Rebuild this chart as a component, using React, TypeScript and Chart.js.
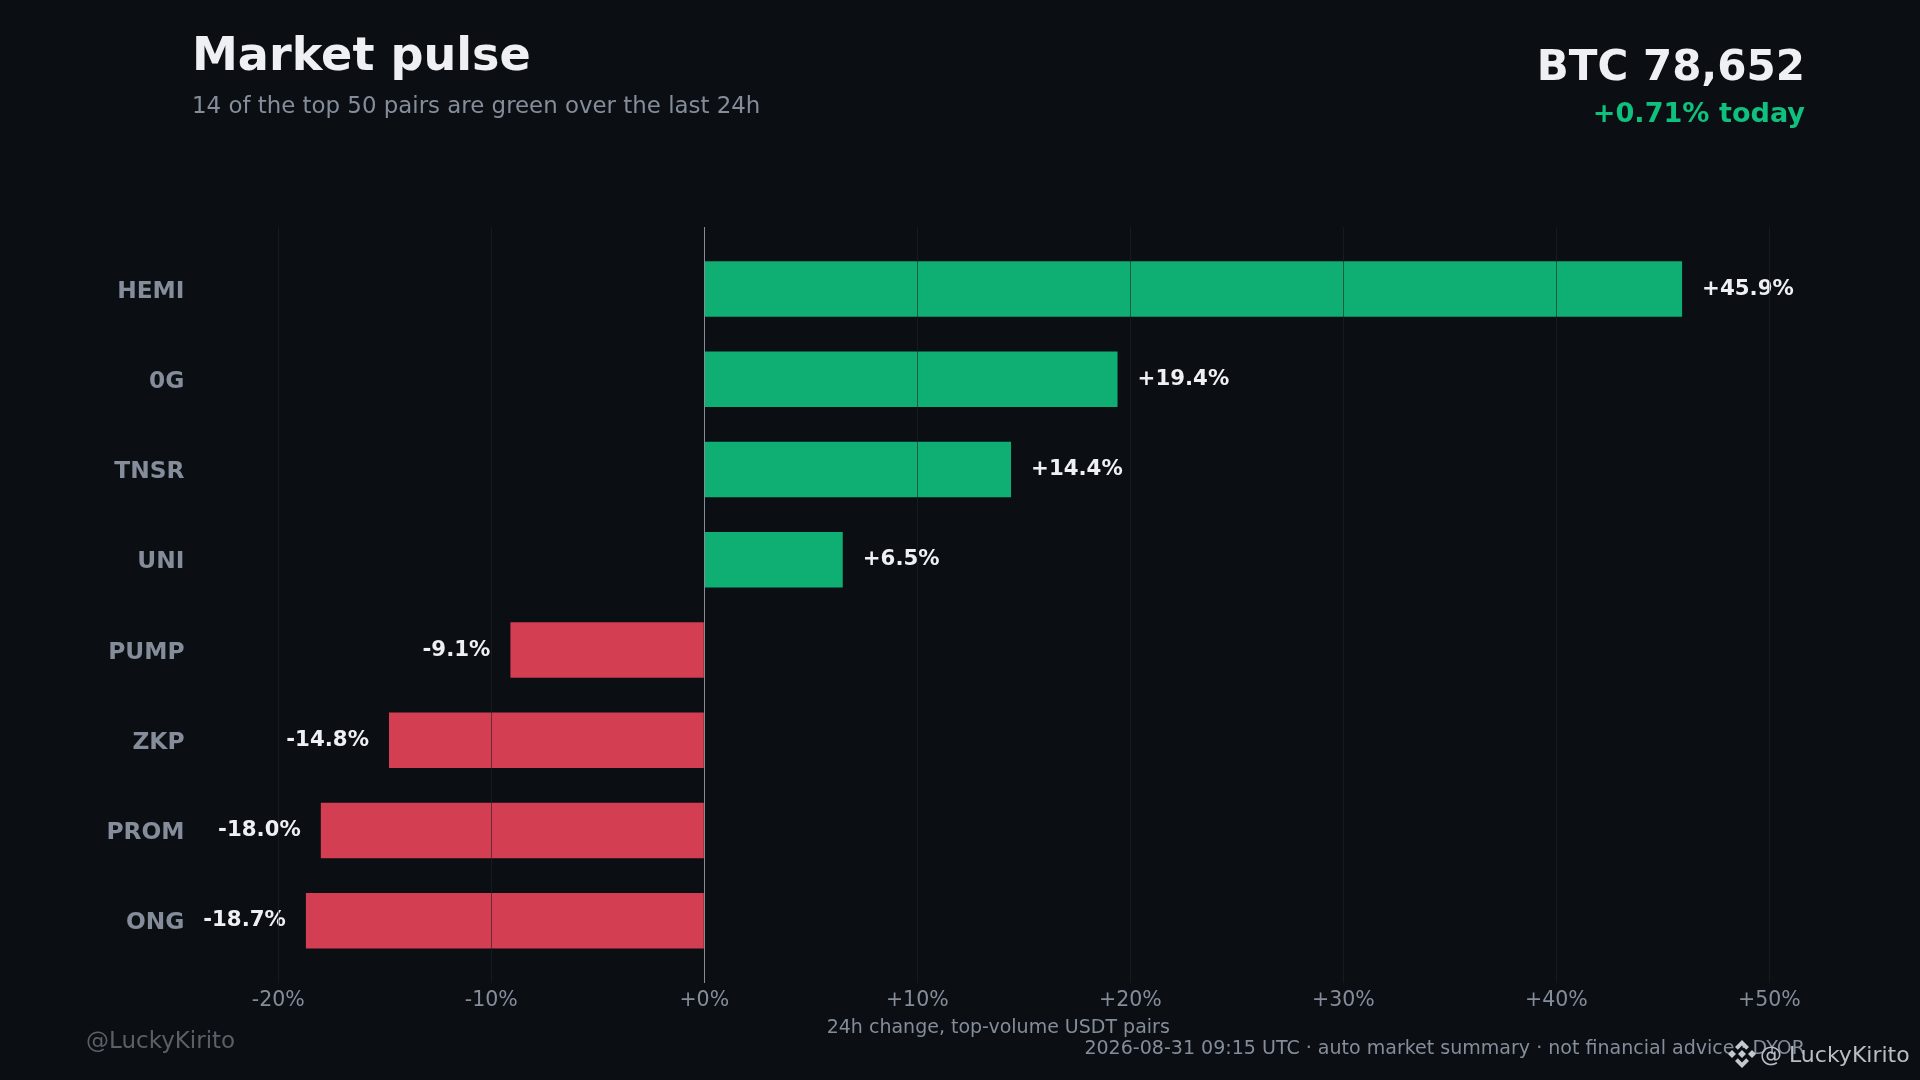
import React, { useEffect, useRef } from "react";
import { Chart, registerables } from "chart.js";

Chart.register(...registerables);

const categories = ["HEMI", "0G", "TNSR", "UNI", "PUMP", "ZKP", "PROM", "ONG"];
const changes = [45.9, 19.4, 14.4, 6.5, -9.1, -14.8, -18.0, -18.7];
const xTicks = [-20, -10, 0, 10, 20, 30, 40, 50];

const BG = "#0b0f13";
const GREEN = "#0fae72";
const RED = "#d33e53";
const MUTED = "#858d9a";
const FONT = '"DejaVu Sans"';

const fmt = (v: number, d: number) => (v < 0 ? "-" : "+") + Math.abs(v).toFixed(d) + "%";

const valueLabels = {
  id: "valueLabels",
  afterDatasetsDraw(chart: any) {
    const { ctx } = chart;
    const meta = chart.getDatasetMeta(0);
    ctx.save();
    ctx.font = `bold 21.3px ${FONT}`;
    ctx.fillStyle = "#eef0f4";
    ctx.textBaseline = "middle";
    meta.data.forEach((bar: any, i: number) => {
      const v = changes[i];
      ctx.textAlign = v < 0 ? "right" : "left";
      ctx.fillText(fmt(v, 1), bar.x + (v < 0 ? -20 : 20), bar.y);
    });
    ctx.restore();
  },
};

const abs = (s: React.CSSProperties): React.CSSProperties => ({
  position: "absolute",
  whiteSpace: "nowrap",
  fontFamily: FONT,
  lineHeight: 1,
  ...s,
});

export default function App() {
  const ref = useRef<HTMLCanvasElement>(null);

  useEffect(() => {
    document.body.style.margin = "0";
    document.body.style.background = BG;
    const chart = new Chart(ref.current!, {
      type: "bar",
      data: {
        labels: categories,
        datasets: [
          {
            data: changes.map((v, i) => ({ x: v, y: i })),
            backgroundColor: changes.map((v) => (v >= 0 ? GREEN : RED)),
            barPercentage: 0.617,
            categoryPercentage: 1,
            borderWidth: 0,
          },
        ],
      },
      plugins: [valueLabels],
      options: {
        indexAxis: "y",
        responsive: false,
        animation: false,
        devicePixelRatio: 1,
        layout: { padding: { top: 227, right: 116.5, left: 0, bottom: 0 } },
        plugins: { legend: { display: false }, tooltip: { enabled: false } },
        scales: {
          x: {
            type: "linear",
            min: -24,
            max: 51.6,
            afterBuildTicks: (s: any) => {
              s.ticks = xTicks.map((value) => ({ value }));
            },
            afterFit: (s: any) => {
              s.height = 97;
            },
            border: { display: false },
            grid: {
              z: 1,
              drawTicks: false,
              lineWidth: 1,
              color: (c: any) => (c.tick?.value === 0 ? "#858d9a" : "rgba(30,35,42,0.6)"),
            },
            ticks: {
              color: MUTED,
              font: { family: FONT, size: 20.5 },
              padding: 5,
              maxRotation: 0,
              autoSkip: false,
              callback: (v: any) => fmt(Number(v), 0),
            },
            title: {
              display: true,
              text: "24h change, top-volume USDT pairs",
              color: MUTED,
              font: { family: FONT, size: 19 },
              padding: { top: 0, bottom: 41 },
            },
          },
          y: {
            type: "linear",
            offset: false,
            reverse: true,
            min: -0.687,
            max: 7.69,
            afterBuildTicks: (s: any) => {
              s.ticks = categories.map((_, value) => ({ value }));
            },
            afterFit: (s: any) => {
              s.width = 193;
            },
            border: { display: false },
            grid: { display: false, drawTicks: false },
            ticks: {
              color: MUTED,
              font: { family: FONT, size: 23.33, weight: "bold" },
              padding: 8.5,
              labelOffset: 2.5,
              autoSkip: false,
              callback: (v: any) => categories[Number(v)] ?? "",
            },
          },
        },
      },
    } as any);
    return () => chart.destroy();
  }, []);

  return (
    <div style={{ position: "fixed", left: 0, top: 0, width: 1920, height: 1080, background: BG, overflow: "hidden" }}>
      <canvas ref={ref} width={1920} height={1080} style={{ display: "block", position: "absolute", left: 0, top: 0 }} />
      <div style={abs({ left: 192, top: 31, fontSize: 46.1, fontWeight: 700, color: "#eef0f4" })}>Market pulse</div>
      <div style={abs({ left: 192, top: 94, fontSize: 22.9, color: MUTED })}>14 of the top 50 pairs are green over the last 24h</div>
      <div style={abs({ right: 115, top: 45, fontSize: 42, fontWeight: 700, color: "#eef0f4" })}>BTC 78,652</div>
      <div style={abs({ right: 115, top: 99, fontSize: 27.1, fontWeight: 700, color: "#10c07e" })}>+0.71% today</div>
      <div style={abs({ right: 115, top: 1038, fontSize: 19.05, color: MUTED })}>2026-08-31 09:15 UTC · auto market summary · not financial advice · DYOR</div>
      <div style={abs({ left: 86, top: 1029, fontSize: 23, color: "#5a6068" })}>@LuckyKirito</div>
      <svg width="30" height="30" viewBox="0 0 30 30" style={{ position: "absolute", left: 1727, top: 1039 }}>
        <g fill="#c4c9cf">
          <path d="M15 1l7 7-2.8 2.8L15 6.6l-4.2 4.2L8 8z" />
          <path d="M15 29l-7-7 2.8-2.8 4.2 4.2 4.2-4.2L22 22z" />
          <path d="M15 11l4 4-4 4-4-4z" />
          <path d="M5 11l4 4-4 4-4-4z" />
          <path d="M25 11l4 4-4 4-4-4z" />
        </g>
      </svg>
      <div style={abs({ left: 1760, top: 1044, fontSize: 22, color: "#b8bec6" })}>@ LuckyKirito</div>
    </div>
  );
}
